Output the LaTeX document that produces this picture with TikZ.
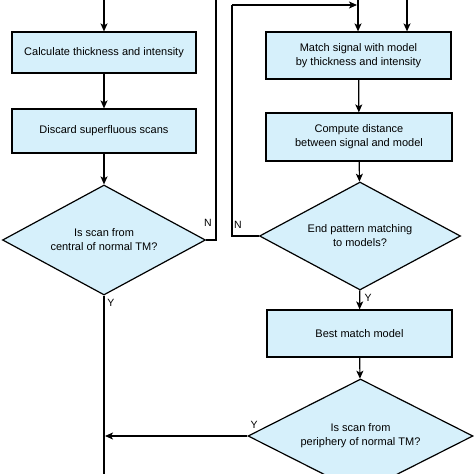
\documentclass[tikz,border=0pt]{standalone}
\usepackage{fontspec}
\setmainfont{Liberation Sans}
\usetikzlibrary{shapes.geometric, arrows.meta}
\definecolor{boxblue}{HTML}{D6F0FB}
\tikzset{
	processnode/.style={
			rectangle,
			draw=black,
			line width=1.2pt,
			fill=boxblue,
			align=center,
			font=\fontsize{11}{14}\selectfont,
			minimum width=184pt,
			inner sep=0pt
		},
	decisionnode/.style={
			diamond,
			draw=black,
			line width=1.2pt,
			fill=boxblue,
			align=center,
			font=\fontsize{11}{14}\selectfont,
			shape aspect=1.9,
			inner sep=0pt
		},
	flowline/.style={
			line width=1.2pt,
			-{Stealth[length=8pt,width=7pt,inset=2pt]}
		},
	plainline/.style={
			line width=1.2pt
		},
	answer/.style={
			font=\fontsize{10.5}{12}\selectfont,
			inner sep=0pt
		}
}

\begin{document}
\begin{tikzpicture}[x=1pt, y=-1pt]
\useasboundingbox (0,0) rectangle (474,474);
\clip (0,0) rectangle (474,474);

% left column
\node[processnode, minimum height=41pt] (calc) at (104,52.5) {Calculate thickness and intensity};
\node[processnode, minimum height=44pt] (discard) at (104,131) {Discard superfluous scans};
\node[decisionnode, minimum width=203pt, minimum height=110pt] (central) at (104,240) {Is scan from\\central of normal TM?};

% right column
\node[processnode, minimum width=185pt, minimum height=47pt] (match) at (358.5,55.5) {Match signal with model\\by thickness and intensity};
\node[processnode, minimum width=186pt, minimum height=48pt] (dist) at (359,137) {Compute distance\\between signal and model};
\node[decisionnode, minimum width=201pt, minimum height=108pt] (endmatch) at (360,236) {End pattern matching\\to models?};
\node[processnode, minimum width=185pt, minimum height=47pt] (best) at (359.5,333.5) {Best match model};
\node[decisionnode, minimum width=225pt, minimum height=114pt] (periph) at (360.5,436) {Is scan from\\periphery of normal TM?};

% free ends
\coordinate (lefttop) at (104,0);
\coordinate (leftbottom) at (104,474);
\coordinate (nexit) at (216,0);
\coordinate (righttopA) at (358,0);
\coordinate (righttopB) at (407,0);
\coordinate (loopleft) at (232,5);
\coordinate (loopjoin) at (357,5);
\coordinate (merge) at (105,436);

\draw[flowline] (lefttop) -- (calc);
\draw[flowline] (calc) -- (discard);
\draw[flowline] (discard) -- (central);
\draw[plainline] (central.south) -- (leftbottom);
\draw[plainline] (central.east) -| (nexit);

\draw[flowline] (righttopA) -- (righttopA |- match.north);
\draw[flowline] (righttopB) -- (righttopB |- match.north);
\draw[flowline] (loopleft) -- (loopjoin);
\draw[plainline] (endmatch.west) -| (loopleft);
\draw[flowline] (match) -- (dist);
\draw[flowline] (dist) -- (endmatch);
\draw[flowline] (endmatch) -- (best);
\draw[flowline] (best) -- (periph);
\draw[flowline] (periph.west) -- (merge);

% branch labels
\node[answer] (ncentral) at (208,223) {N};
\node[answer] (ycentral) at (111,303) {Y};
\node[answer] (nend) at (238,225) {N};
\node[answer] (yend) at (368,298) {Y};
\node[answer] (yperiph) at (254,425) {Y};
\end{tikzpicture}
\end{document}
